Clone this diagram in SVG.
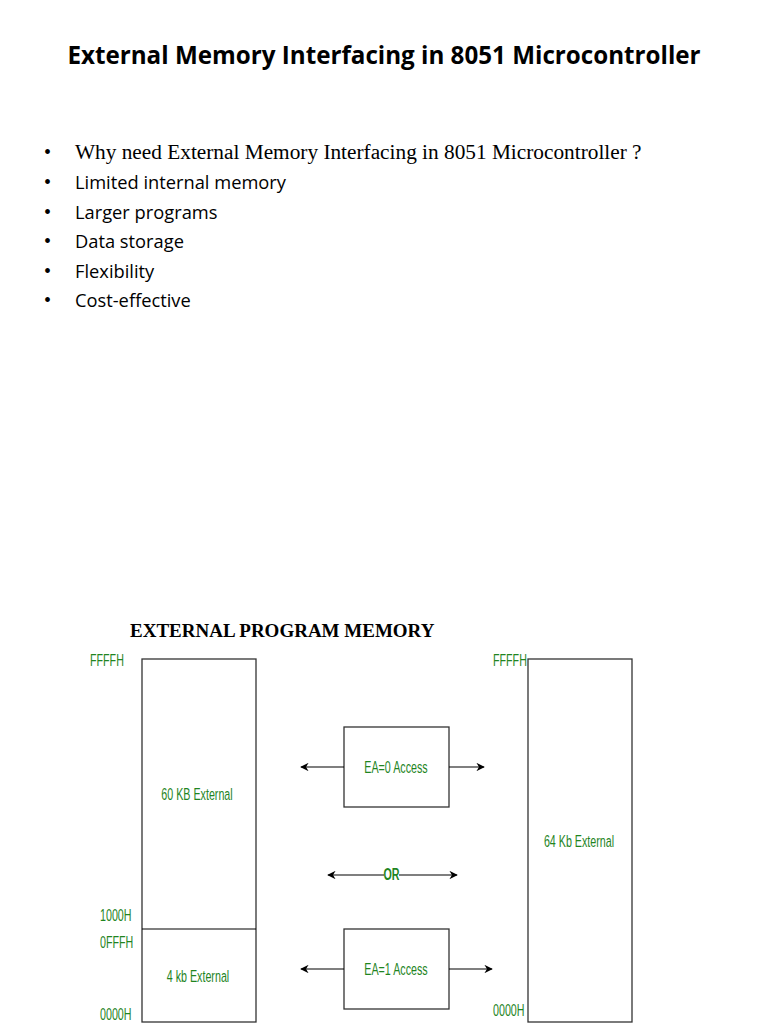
<svg xmlns="http://www.w3.org/2000/svg" width="768" height="1024" viewBox="0 0 768 1024">
<defs>
<style>
.title{font-family:"Open Sans","Liberation Sans",sans-serif;font-weight:bold;font-size:24.2px;fill:#000}
.serif{font-family:"Liberation Serif",serif;fill:#000}
.sans{font-family:"Open Sans","Liberation Sans",sans-serif;font-size:18.3px;fill:#000}
.g{font-family:"Liberation Sans",sans-serif;font-size:17px;fill:#1f851f}
.box{fill:#fff;stroke:#333;stroke-width:1.3}
.line{stroke:#000;stroke-width:1.2;fill:none}
</style>
<marker id="ah" viewBox="0 0 10 10" refX="9" refY="5" markerWidth="7" markerHeight="7" orient="auto-start-reverse">
<path d="M0,0 L10,5 L0,10 L3,5 Z" fill="#000"/>
</marker>
</defs>
<rect width="768" height="1024" fill="#fff"/>
<text class="title" x="384" y="64" text-anchor="middle">External Memory Interfacing in 8051 Microcontroller</text>
<g id="bullets">
<text class="serif" x="44" y="159" font-size="20">•</text>
<text class="serif" x="75" y="159" font-size="21.3">Why need External Memory Interfacing in 8051 Microcontroller ?</text>
<text class="serif" x="44" y="189" font-size="20">•</text>
<text class="sans" x="75" y="189">Limited internal memory</text>
<text class="serif" x="44" y="219" font-size="20">•</text>
<text class="sans" x="75" y="219">Larger programs</text>
<text class="serif" x="44" y="248" font-size="20">•</text>
<text class="sans" x="75" y="248">Data storage</text>
<text class="serif" x="44" y="278" font-size="20">•</text>
<text class="sans" x="75" y="278">Flexibility</text>
<text class="serif" x="44" y="307" font-size="20">•</text>
<text class="sans" x="75" y="307">Cost-effective</text>
</g>
<text class="serif" x="130" y="637" font-size="19" font-weight="bold">EXTERNAL PROGRAM MEMORY</text>
<g id="left-memory">
<rect class="box" x="142" y="659" width="114" height="363"/>
<line class="line" x1="142" y1="929" x2="256" y2="929" stroke="#333"/>
<text class="g" transform="translate(197,800) scale(0.63,1)" text-anchor="middle">60 KB External</text>
<text class="g" transform="translate(198,982) scale(0.63,1)" text-anchor="middle">4 kb External</text>
</g>
<g id="left-labels">
<text class="g" transform="translate(90,666) scale(0.63,1)">FFFFH</text>
<text class="g" transform="translate(100,921) scale(0.63,1)">1000H</text>
<text class="g" transform="translate(100,948) scale(0.63,1)">0FFFH</text>
<text class="g" transform="translate(100,1020) scale(0.63,1)">0000H</text>
</g>
<g id="ea0">
<rect class="box" x="344" y="727" width="105" height="80"/>
<text class="g" transform="translate(396,773) scale(0.63,1)" text-anchor="middle">EA=0 Access</text>
</g>
<g id="ea1">
<rect class="box" x="344" y="929" width="105" height="80"/>
<text class="g" transform="translate(396,975) scale(0.63,1)" text-anchor="middle">EA=1 Access</text>
</g>
<g id="right-memory">
<rect class="box" x="528" y="659" width="104" height="363"/>
<text class="g" transform="translate(579,847) scale(0.63,1)" text-anchor="middle">64 Kb External</text>
<text class="g" transform="translate(493,666) scale(0.63,1)">FFFFH</text>
<text class="g" transform="translate(493,1016) scale(0.63,1)">0000H</text>
</g>
<g id="connectors">
<line class="line" x1="344" y1="767" x2="301" y2="767" marker-end="url(#ah)"/>
<line class="line" x1="449" y1="767" x2="484" y2="767" marker-end="url(#ah)"/>
<line class="line" x1="344" y1="969" x2="301" y2="969" marker-end="url(#ah)"/>
<line class="line" x1="449" y1="969" x2="492" y2="969" marker-end="url(#ah)"/>
<line class="line" x1="328" y1="875" x2="384" y2="875" marker-start="url(#ah)"/>
<line class="line" x1="399" y1="875" x2="457" y2="875" marker-end="url(#ah)"/>
<text class="g" transform="translate(391.5,880) scale(0.63,1)" text-anchor="middle" font-weight="bold">OR</text>
</g>
</svg>
